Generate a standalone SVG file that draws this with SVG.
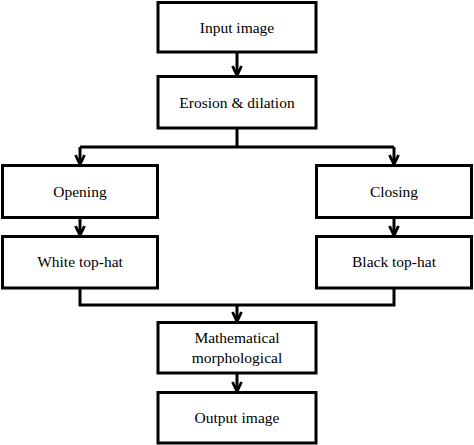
<svg xmlns="http://www.w3.org/2000/svg" width="474" height="445" viewBox="0 0 474 445">
<style>
.box{fill:#fff;stroke:#000;stroke-width:3}
.lbl{font-size:15.5px;fill:#000;text-anchor:middle}
.con{fill:none;stroke:#000;stroke-width:3}
</style>
<defs>
<marker id="arr" viewBox="-1 -1 14 12" refX="11" refY="5" markerWidth="14" markerHeight="12" markerUnits="userSpaceOnUse" orient="auto">
<path d="M1,0.5 L10.5,5 L1,9.5" fill="none" stroke="#000" stroke-width="2.8" stroke-linejoin="miter"/>
</marker>
</defs>
<rect width="474" height="445" fill="#fff"/>
<g id="connectors" class="con">
<line x1="237" y1="52" x2="237" y2="76" marker-end="url(#arr)"/>
<polyline points="237,128 237,147"/>
<polyline points="80,147 394,147"/>
<line x1="80" y1="147" x2="80" y2="165" marker-end="url(#arr)"/>
<line x1="394" y1="147" x2="394" y2="165" marker-end="url(#arr)"/>
<line x1="80" y1="217" x2="80" y2="236" marker-end="url(#arr)"/>
<line x1="394" y1="217" x2="394" y2="236" marker-end="url(#arr)"/>
<polyline points="80,288 80,305 394,305 394,288"/>
<line x1="237" y1="305" x2="237" y2="322" marker-end="url(#arr)"/>
<line x1="237" y1="373" x2="237" y2="392" marker-end="url(#arr)"/>
</g>
<g font-family="Liberation Serif, Tinos, Times New Roman, Noto Serif, DejaVu Serif, serif">
<g id="input"><rect class="box" x="158" y="2.5" width="158" height="49.5"/><text class="lbl" x="237" y="33">Input image</text></g>
<g id="erosion"><rect class="box" x="158" y="76.5" width="158" height="51.5"/><text class="lbl" x="237" y="108">Erosion &amp; dilation</text></g>
<g id="opening"><rect class="box" x="2.5" y="165.5" width="155" height="52"/><text class="lbl" x="80" y="197">Opening</text></g>
<g id="closing"><rect class="box" x="316.5" y="165.5" width="155" height="52"/><text class="lbl" x="394" y="197">Closing</text></g>
<g id="white"><rect class="box" x="2.5" y="236.5" width="155" height="51.5"/><text class="lbl" x="80" y="267">White top-hat</text></g>
<g id="black"><rect class="box" x="316.5" y="236.5" width="155" height="51.5"/><text class="lbl" x="394" y="267">Black top-hat</text></g>
<g id="math"><rect class="box" x="158" y="322.5" width="158" height="50.5"/><text class="lbl" x="237" y="343">Mathematical</text><text class="lbl" x="237" y="363">morphological</text></g>
<g id="output"><rect class="box" x="158" y="392.5" width="158" height="50.5"/><text class="lbl" x="237" y="423">Output image</text></g>
</g>
</svg>
